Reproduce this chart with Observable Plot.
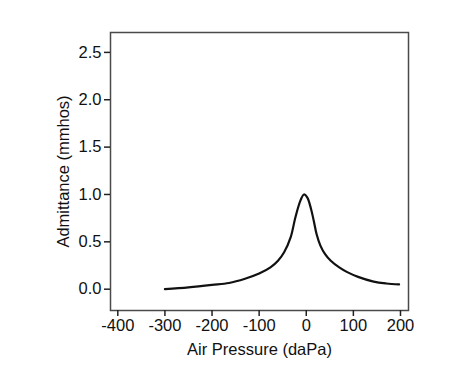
<!DOCTYPE html>
<html>
<head>
<meta charset="utf-8">
<script src="https://cdn.jsdelivr.net/npm/d3@7"></script>
<script src="https://cdn.jsdelivr.net/npm/@observablehq/plot@0.6"></script>
<style>
  html, body { margin: 0; padding: 0; background: #fff; }
  #chart svg { display: block; }
</style>
</head>
<body>
<div id="chart"></div>
<script>
const pressure = [-300, -250, -200, -164, -130, -100, -76, -60, -47, -33, -23, -12, -5, 2, 10, 16, 22, 30, 40, 52, 70, 87, 110, 143, 170, 197];
const admittance = [0.0, 0.02, 0.045, 0.065, 0.11, 0.165, 0.23, 0.30, 0.39, 0.55, 0.76, 0.94, 1.0, 0.97, 0.85, 0.72, 0.58, 0.46, 0.37, 0.30, 0.23, 0.18, 0.13, 0.08, 0.06, 0.05];
const xTicks = [-400, -300, -200, -100, 0, 100, 200];
const yTicks = [0, 0.5, 1.0, 1.5, 2.0, 2.5];

const data = pressure.map((p, i) => ({p, a: admittance[i]}));

const chart = Plot.plot({
  width: 474,
  height: 379,
  marginLeft: 110,
  marginRight: 66,
  marginTop: 32,
  marginBottom: 69,
  style: {fontFamily: "Liberation Sans, Arial, sans-serif", fontSize: "16.5px", color: "#111", background: "#fff"},
  x: {domain: [-415.5, 217]},
  y: {domain: [-0.225, 2.71]},
  marks: [
    Plot.frame({stroke: "#4a4a4a", strokeWidth: 1.5}),
    Plot.axisX({ticks: xTicks, tickFormat: d => String(d), tickSize: 6, tickPadding: 3, stroke: "#222", strokeWidth: 1.5,
      label: "Air Pressure (daPa)", labelAnchor: "center", labelArrow: "none", labelOffset: 44, fontSize: 16.5}),
    Plot.axisY({ticks: yTicks, tickFormat: d3.format(".1f"), tickSize: 6, tickPadding: 3, stroke: "#222", strokeWidth: 1.5,
      label: "Admittance (mmhos)", labelAnchor: "center", labelArrow: "none", labelOffset: 53, fontSize: 16.5}),
    Plot.line(data, {x: "p", y: "a", curve: "catmull-rom", stroke: "#111", strokeWidth: 2.2})
  ]
});
document.getElementById("chart").appendChild(chart);
</script>
</body>
</html>
